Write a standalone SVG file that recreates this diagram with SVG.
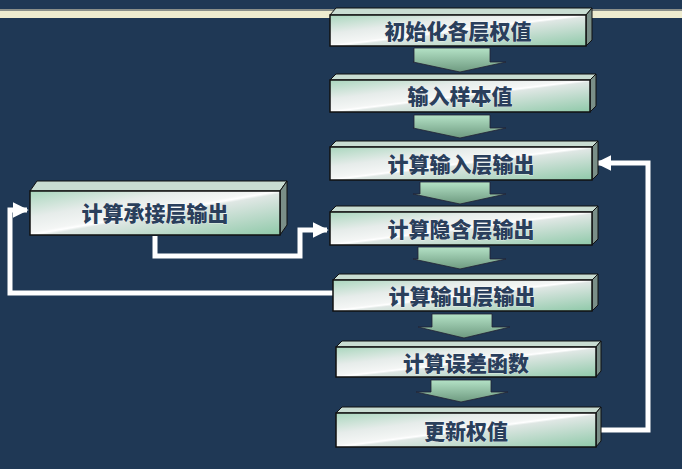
<svg xmlns="http://www.w3.org/2000/svg" width="682" height="469" viewBox="0 0 682 469">
<defs>
<linearGradient id="face" x1="0" y1="0" x2="1" y2="1">
<stop offset="0" stop-color="#a9d6bd"/><stop offset="0.3" stop-color="#e6ecea"/><stop offset="0.47" stop-color="#f4f6f5"/><stop offset="0.5" stop-color="#ffffff"/><stop offset="0.53" stop-color="#dfe7e4"/><stop offset="1" stop-color="#8fc9a9"/>
</linearGradient>
<linearGradient id="arr" x1="0" y1="0" x2="0" y2="1">
<stop offset="0" stop-color="#b4e2c6"/><stop offset="1" stop-color="#6e9a80"/>
</linearGradient>
<marker id="ah" viewBox="0 0 10 10" refX="9" refY="5" markerWidth="3.2" markerHeight="3.2" orient="auto" markerUnits="strokeWidth">
<path d="M0,0 L10,5 L0,10 z" fill="#ffffff"/>
</marker>
</defs>
<style>
.f{fill:url(#face);stroke:#111;stroke-width:1.5}
.t{fill:#c9ddd2;stroke:#111;stroke-width:1}
.s{fill:#7a8f88;stroke:#111;stroke-width:1}
.l{font-family:"Noto Sans CJK SC",sans-serif;font-weight:900;font-size:21px;fill:#2a3f5c;text-anchor:middle;stroke:#ffffff;stroke-width:0.5;paint-order:stroke}
.c{fill:none;stroke:#ffffff;stroke-width:5}
.ba{fill:url(#arr);stroke:#223;stroke-width:0.8}
</style>
<rect width="682" height="469" fill="#1f3855"/>
<rect x="0" y="9" width="682" height="2" fill="#8a8f8a"/>
<rect x="0" y="11" width="682" height="7" fill="#eeecd0"/>
<g id="arrows">
<path class="ba" d="M414,48 H490 V62 H506 L460,72 L413,62 H414 Z"/>
<path class="ba" d="M414,115 H490 V128 H506 L460,138 L413,128 H414 Z"/>
<path class="ba" d="M420,182 H490 V194 H506 L460,204 L413,194 H420 Z"/>
<path class="ba" d="M418,247 H490 V259 H506 L460,269 L413,259 H418 Z"/>
<path class="ba" d="M432,314 H492 V327 H510 L464,338 L418,327 H432 Z"/>
<path class="ba" d="M431,380 H491 V392 H508 L461,402 L416,392 H431 Z"/>
</g>
<g id="connectors">
<polyline class="c" points="600,430 648,430 648,163 597,163" marker-end="url(#ah)"/>
<polyline class="c" points="155,236 155,256 300,256 300,230 327,230" marker-end="url(#ah)"/>
<polyline class="c" points="334,293 10,293 10,210 27,210" marker-end="url(#ah)"/>
</g>
<g id="n1"><path class="t" d="M330,15 L336,8 H592 L586,15 Z"/><path class="s" d="M586,15 L592,8 V40 L586,46 Z"/><rect class="f" x="330" y="15" width="256" height="31"/><text class="l" x="458" y="39">初始化各层权值</text></g>
<g id="n2"><path class="t" d="M330,80 L336,74 H596 L590,80 Z"/><path class="s" d="M590,80 L596,74 V106 L590,112 Z"/><rect class="f" x="330" y="80" width="260" height="32"/><text class="l" x="460" y="104">输入样本值</text></g>
<g id="n3"><path class="t" d="M330,147 L336,141 H598 L592,147 Z"/><path class="s" d="M592,147 L598,141 V174 L592,180 Z"/><rect class="f" x="330" y="147" width="262" height="33"/><text class="l" x="461" y="172">计算输入层输出</text></g>
<g id="n4"><path class="t" d="M330,212 L336,206 H598 L592,212 Z"/><path class="s" d="M592,212 L598,206 V239 L592,245 Z"/><rect class="f" x="330" y="212" width="262" height="33"/><text class="l" x="461" y="237">计算隐含层输出</text></g>
<g id="n5"><path class="t" d="M333,280 L339,274 H598 L592,280 Z"/><path class="s" d="M592,280 L598,274 V305 L592,311 Z"/><rect class="f" x="333" y="280" width="259" height="31"/><text class="l" x="462" y="304">计算输出层输出</text></g>
<g id="n6"><path class="t" d="M336,347 L342,341 H601 L596,347 Z"/><path class="s" d="M596,347 L601,341 V371 L596,377 Z"/><rect class="f" x="336" y="347" width="260" height="30"/><text class="l" x="466" y="371">计算误差函数</text></g>
<g id="n7"><path class="t" d="M336,413 L342,407 H601 L596,413 Z"/><path class="s" d="M596,413 L601,407 V441 L596,447 Z"/><rect class="f" x="336" y="413" width="260" height="34"/><text class="l" x="466" y="439">更新权值</text></g>
<g id="n8"><path class="t" d="M30,191 L37,181 H287 L280,191 Z"/><path class="s" d="M280,191 L287,181 V225 L280,235 Z"/><rect class="f" x="30" y="191" width="250" height="44"/><text class="l" x="155" y="221">计算承接层输出</text></g>
</svg>
